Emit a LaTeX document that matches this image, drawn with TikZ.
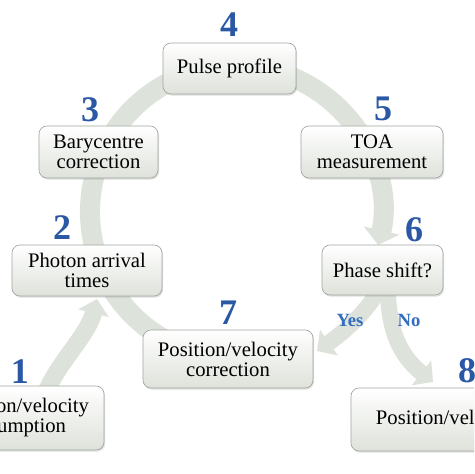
\documentclass[tikz,border=0pt]{standalone}
\usepackage{fontspec}
\setmainfont{Liberation Serif}
\usetikzlibrary{arrows.meta,shadows,calc}
\definecolor{band}{RGB}{221,227,219}
\definecolor{numblue}{RGB}{42,88,165}
\definecolor{yesblue}{RGB}{52,110,190}
\definecolor{boxedge}{RGB}{160,165,160}
\definecolor{boxbot}{RGB}{222,226,218}
\begin{document}
\begin{tikzpicture}[x=0.75pt,y=-0.75pt,
  stepbox/.style={draw=boxedge, line width=0.5pt, rounded corners=6pt,
    top color=white, bottom color=boxbot, align=center, inner sep=0pt,
    font=\fontsize{15.5}{15}\selectfont,
    drop shadow={opacity=0.25, shadow xshift=0.8pt, shadow yshift=-1.2pt}},
  numlabel/.style={text=numblue, font=\fontsize{27}{27}\selectfont\bfseries, inner sep=0pt},
  yeslabel/.style={text=yesblue, font=\fontsize{14}{14}\selectfont\bfseries, inner sep=0pt},
  ring/.style={draw=band, line width=15pt, -{Triangle[width=27pt,length=11pt]}},
  thinband/.style={draw=band, line width=12pt, -{Triangle[width=23pt,length=11pt]}}
]
\clip (0,0) rectangle (474,474);
\useasboundingbox (0,0) rectangle (474,474);
\fill[white] (0,0) rectangle (474,474);

\coordinate (ringc) at (236,212);

% box anchors defined first as coordinates for connectors
\coordinate (b6bot) at (380,288);
\coordinate (b6botr) at (388,288);
\coordinate (b1top) at (46,392);
\coordinate (yestip) at (317,351);
\coordinate (notip) at (433,382);
\coordinate (onetip) at (97,299);

% ring arc 7 -> 2 -> 3 -> 4 -> 5 -> 6
\draw[ring] ($(ringc)+(118:146)$) arc[start angle=118, end angle=373, radius=146];
% Yes: 6 -> 7
\draw[thinband] (b6bot) .. controls (365,315) and (340,335) .. (yestip);
% No: 6 -> 8
\draw[thinband] (b6botr) .. controls (388,330) and (400,356) .. (notip);
% 1 -> 2
\draw[thinband, line width=13pt] (b1top) .. controls (60,360) and (88,335) .. (onetip);

% boxes
\node[stepbox, minimum width=99.75pt, minimum height=38.25pt] (b4) at (229.5,68.5) {Pulse profile};
\node[stepbox, minimum width=89.25pt, minimum height=39pt] (b3) at (98.5,152) {Barycentre\\correction};
\node[stepbox, minimum width=106.5pt, minimum height=39pt] (b5) at (372,152) {TOA\\measurement};
\node[stepbox, minimum width=112.5pt, minimum height=38.25pt] (b2) at (87,270.5) {Photon arrival\\times};
\node[stepbox, minimum width=90.75pt, minimum height=37.5pt] (b6) at (382.5,270) {Phase shift?};
\node[stepbox, minimum width=127.5pt, minimum height=43.5pt] (b7) at (228,359) {Position/velocity\\correction};
\node[stepbox, minimum width=127.5pt, minimum height=48pt] (b1) at (19,418) {Position/velocity\\assumption};
\node[stepbox, minimum width=142.5pt, minimum height=47.25pt] (b8) at (446,419.5) {Position/velocity};

% numbers
\node[numlabel] (n4) at (229,25) {4};
\node[numlabel] (n3) at (90,110) {3};
\node[numlabel] (n5) at (383,109) {5};
\node[numlabel] (n2) at (62,228) {2};
\node[numlabel] (n6) at (414,230) {6};
\node[numlabel] (n7) at (228,313) {7};
\node[numlabel] (n1) at (20,372) {1};
\node[numlabel] (n8) at (467,371) {8};
\node[yeslabel] (yes) at (350,320) {Yes};
\node[yeslabel] (no) at (409,320) {No};
\end{tikzpicture}
\end{document}
